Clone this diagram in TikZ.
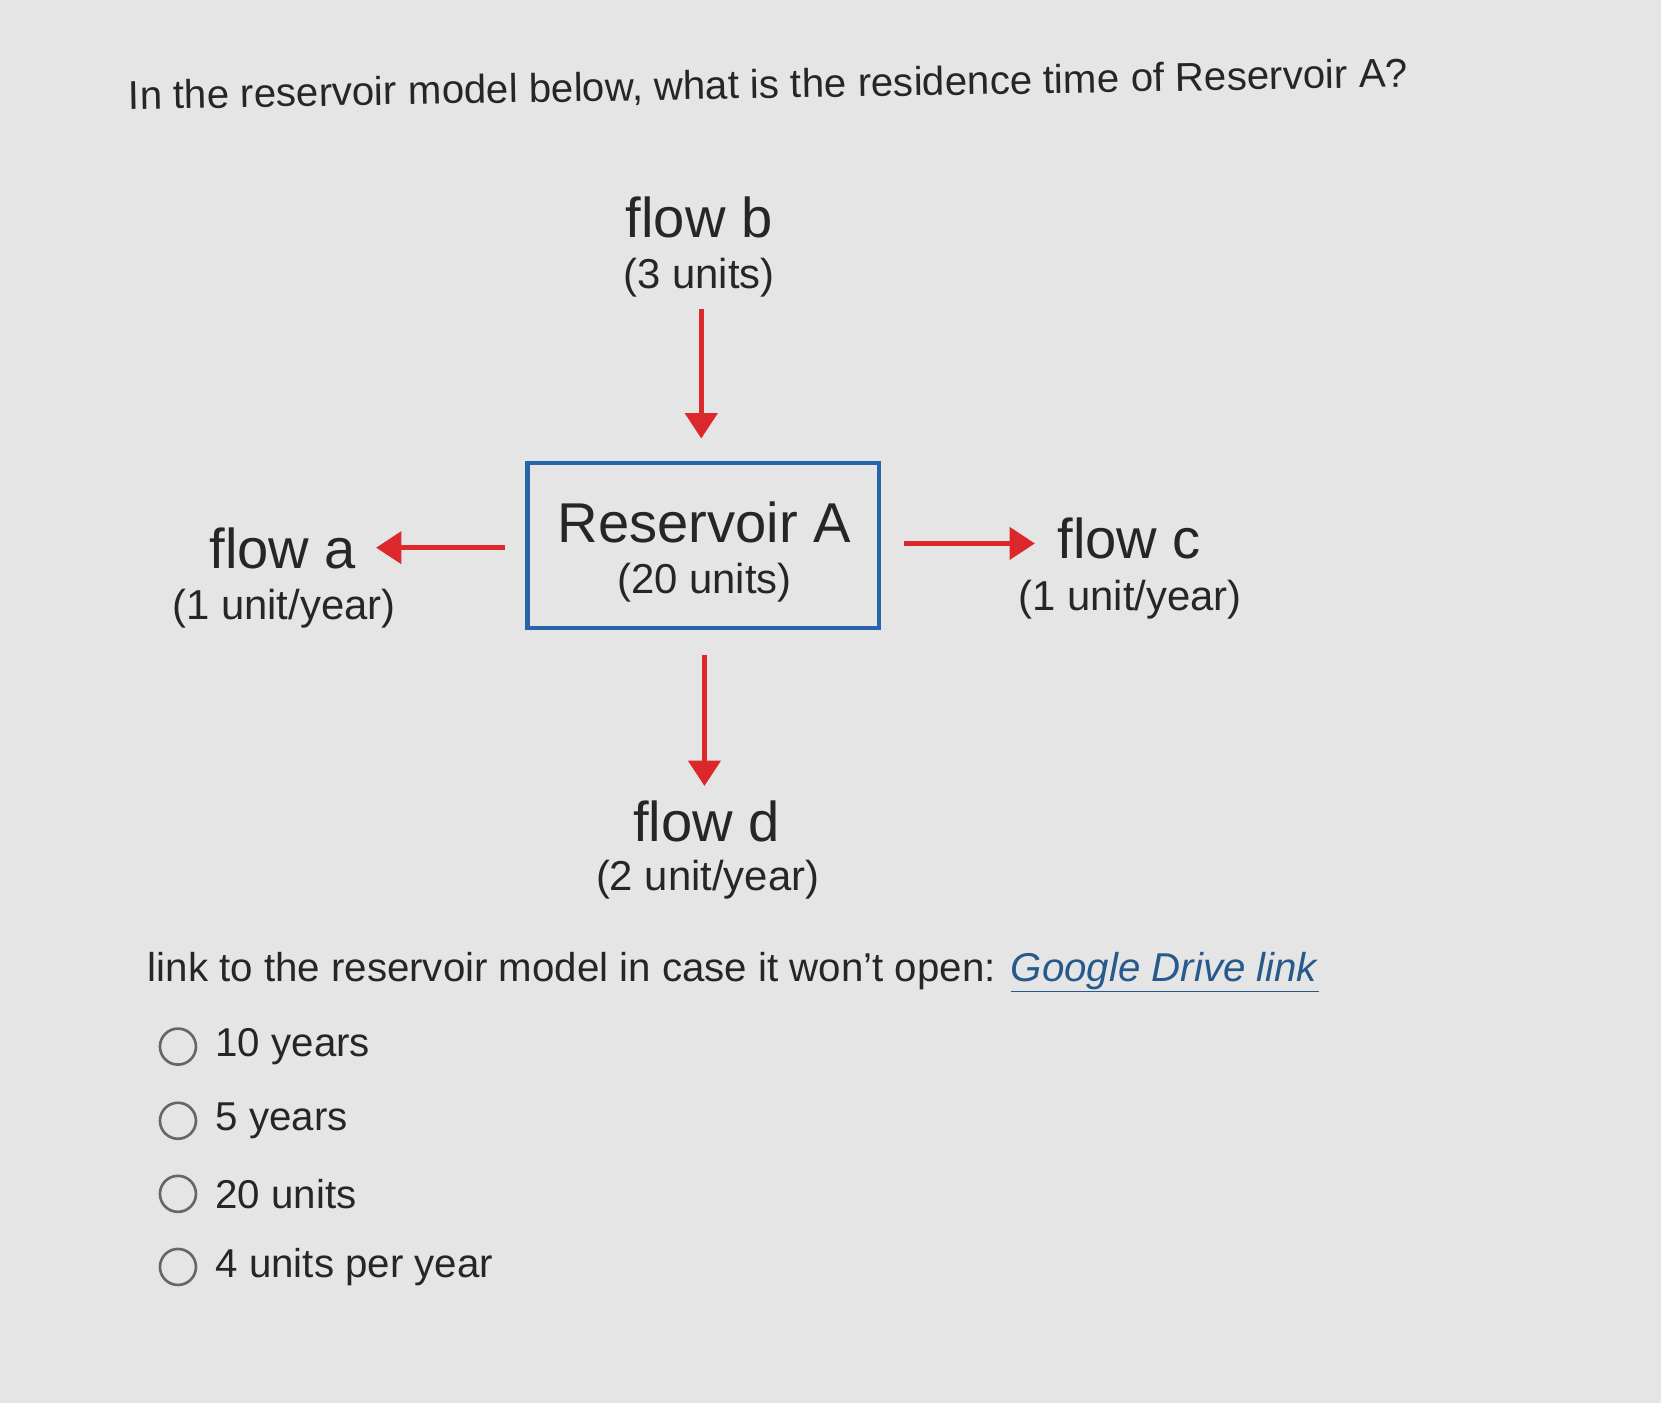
\documentclass[tikz,border=0pt]{standalone}
\usepackage{fontspec}
\setmainfont{Liberation Sans}
\usetikzlibrary{arrows.meta}
\begin{document}
\begin{tikzpicture}[x=1pt,y=-1pt,
  big/.style={font=\fontsize{53}{60}\selectfont,text=black!85},
  mid/.style={font=\fontsize{39.5}{44}\selectfont,text=black!85},
  opt/.style={font=\fontsize{38}{44}\selectfont,text=black!85},
  flowarrow/.style={draw={rgb,255:red,220;green,40;blue,45},line width=5,-{Triangle[length=24,width=30]}}]
\fill[black!10] (0,0) rectangle (1568,1324);
\useasboundingbox (0,0) rectangle (1568,1324);
\node[opt,anchor=west,rotate=1] (title) at (118,92) {In the reservoir model below, what is the residence time of Reservoir A?};
\node[big] (fb) at (660,205) {flow b};
\node[mid] (fbu) at (660,262) {(3 units)};
\coordinate (bs) at (662,292); \coordinate (be) at (662,414);
\draw[flowarrow] (bs) -- (be);
\node[draw={rgb,255:red,40;green,100;blue,170},line width=4,minimum width=332,minimum height=156] (box) at (664,515) {};
\node[big] (ra) at (665,493) {Reservoir A};
\node[mid] (rau) at (665,550) {(20 units)};
\node[big] (fa) at (267,518) {flow a};
\node[mid] (fau) at (268,575) {(1 unit/year)};
\coordinate (as) at (477,517); \coordinate (ae) at (355,517);
\draw[flowarrow] (as) -- (ae);
\coordinate (cs) at (853,513); \coordinate (ce) at (977,513);
\draw[flowarrow] (cs) -- (ce);
\node[big] (fc) at (1066,508) {flow c};
\node[mid] (fcu) at (1067,566) {(1 unit/year)};
\coordinate (ds) at (665,618); \coordinate (de) at (665,742);
\draw[flowarrow] (ds) -- (de);
\node[big] (fd) at (667,775) {flow d};
\node[mid] (fdu) at (668,830) {(2 unit/year)};
\node[opt,anchor=west] (link) at (136,918) {link to the reservoir model in case it won't open: \textcolor[rgb]{0.15,0.35,0.55}{\underline{\textit{Google Drive link}}}};
\foreach \y/\t [count=\i] in {988/10 years,1058/5 years,1127/20 units,1196/4 units per year}{
  \node[draw=black!60,line width=2.5,circle,minimum size=34,inner sep=0] (r\i) at (168,\y) {};
  \node[opt,anchor=west] (l\i) at (200,\y) {\t};
}
\end{tikzpicture}
\end{document}
